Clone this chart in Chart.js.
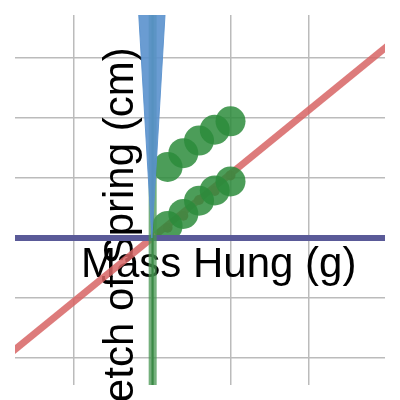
<!DOCTYPE html>
<html><head><script src="https://cdn.jsdelivr.net/npm/chart.js"></script>
<style>html,body{margin:0;padding:0;background:#fff}#w{width:400px;height:400px}</style></head>
<body><div id="w"><canvas id="c"></canvas></div>
<script>
const massX = [0.2, 0.4, 0.6, 0.8, 1.0];
const stretchLow = [0.2, 0.4, 0.62, 0.79, 0.94];
const stretchHigh = [1.18, 1.41, 1.62, 1.8, 1.94];
const stretchRed = [0.17, 0.37, 0.63, 0.78, 1.04];
const fitSlope = 1.066;
const xTitle = "Mass Hung (g)";
const yTitle = "Stretch of Spring (cm)";
const xGrid = [-1, 0, 1, 2];
const yGrid = [-2, -1, 0, 1, 2, 3];
const XMIN=-1.741, XMAX=2.965, YMIN=-2.446, YMAX=3.708;

const titles = {id:'titles', beforeDatasetsDraw(ch){
  const ctx=ch.ctx; const xs=ch.scales.x, ys=ch.scales.y;
  ctx.save(); ctx.fillStyle='#000'; ctx.font='42px "Liberation Sans", Arial, sans-serif';
  ctx.textAlign='center'; ctx.textBaseline='alphabetic';
  ctx.fillText(xTitle, xs.getPixelForValue(0.85), ys.getPixelForValue(-0.65));
  ctx.translate(xs.getPixelForValue(-0.24), ys.getPixelForValue(3.17));
  ctx.rotate(-Math.PI/2); ctx.textAlign='right';
  ctx.fillText(yTitle, 0, 0);
  ctx.restore();
}};

new Chart(document.getElementById('c'), {
  type:'scatter',
  data:{datasets:[
    {data:[{x:0,y:0},{x:-0.176,y:YMAX+0.2},{x:0.176,y:YMAX+0.2},{x:0,y:0}], showLine:true, fill:'shape', tension:0, backgroundColor:'rgba(90,145,205,0.9)', borderColor:'rgba(90,145,205,0.9)', borderWidth:1, pointRadius:0},
    {data:[{x:0.01,y:YMIN-0.2},{x:0.01,y:YMAX+0.2}], showLine:true, borderColor:'rgba(70,150,80,0.75)', borderWidth:8, pointRadius:0},
    {data:[{x:0.01,y:YMIN-0.2},{x:0.01,y:YMAX+0.2}], showLine:true, borderColor:'#1f6a2a', borderWidth:2, pointRadius:0},
    {data:[{x:XMIN-0.2,y:0},{x:XMAX+0.2,y:0}], showLine:true, borderColor:'#5a5a98', borderWidth:6, pointRadius:0},
    {data:massX.map((x,i)=>({x,y:stretchLow[i]})), pointRadius:15, pointHoverRadius:15, backgroundColor:'rgba(45,140,60,0.85)', borderWidth:0},
    {data:massX.map((x,i)=>({x,y:stretchHigh[i]})), pointRadius:15, pointHoverRadius:15, backgroundColor:'rgba(45,140,60,0.85)', borderWidth:0},
    {data:[{x:XMIN-0.2,y:fitSlope*(XMIN-0.2)},{x:XMAX+0.2,y:fitSlope*(XMAX+0.2)}], showLine:true, borderColor:'rgba(215,100,100,0.85)', borderWidth:7, pointRadius:0},
    {data:massX.map((x,i)=>({x,y:stretchRed[i]})), pointRadius:5, backgroundColor:'rgba(200,70,70,0.8)', borderWidth:0}
  ]},
  options:{responsive:true, maintainAspectRatio:false, animation:false, layout:{padding:0},
    plugins:{legend:{display:false}, tooltip:{enabled:false}},
    scales:{
      x:{min:XMIN,max:XMAX,ticks:{display:false,padding:0},border:{display:false},grid:{color:'#bbb',lineWidth:1.5,drawTicks:false},
         afterBuildTicks(s){s.ticks=xGrid.map(v=>({value:v}));}, afterFit(s){s.height=0;}},
      y:{min:YMIN,max:YMAX,ticks:{display:false,padding:0},border:{display:false},grid:{color:'#bbb',lineWidth:1.5,drawTicks:false},
         afterBuildTicks(s){s.ticks=yGrid.map(v=>({value:v}));}, afterFit(s){s.width=0;}}
    }},
  plugins:[titles]
});
</script></body></html>
